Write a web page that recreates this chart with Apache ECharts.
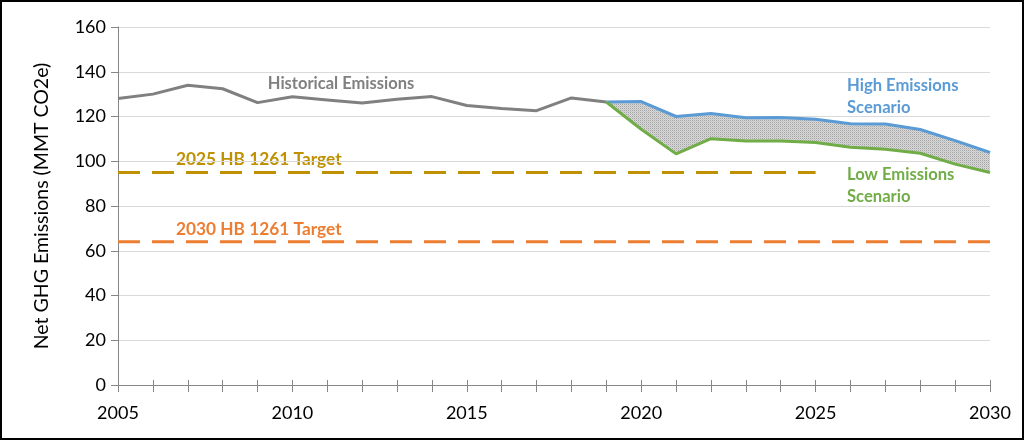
<!DOCTYPE html>
<html>
<head>
<meta charset="utf-8">
<script src="https://cdn.jsdelivr.net/npm/echarts@6/dist/echarts.min.js"></script>
<style>
  html, body { margin: 0; padding: 0; background: #fff; }
  #chart { width: 1024px; height: 440px; }
</style>
</head>
<body>
<div id="chart"></div>
<script>
// 历史排放与情景数据
var histYears = [2005, 2006, 2007, 2008, 2009, 2010, 2011, 2012, 2013, 2014, 2015, 2016, 2017, 2018, 2019];
var histValues = [128, 130, 134, 132.4, 126.2, 128.8, 127.4, 126, 127.7, 128.9, 124.9, 123.6, 122.6, 128.3, 126.5];

var scenYears = [2019, 2020, 2021, 2022, 2023, 2024, 2025, 2026, 2027, 2028, 2029, 2030];
var highValues = [126.5, 126.7, 120, 121.3, 119.4, 119.6, 118.8, 116.8, 116.6, 114.2, 109.2, 103.9];
var lowValues = [126.5, 114.3, 103.3, 110.1, 109.1, 109.1, 108.4, 106.3, 105.4, 103.6, 98.7, 95];

var target2025Years = [2005, 2025];
var target2025Values = [95, 95];
var target2030Years = [2005, 2030];
var target2030Values = [64, 64];

var font = 'Lato, "Open Sans", sans-serif';

function pairs(xs, ys) {
  var out = [];
  for (var i = 0; i < xs.length; i++) out.push([xs[i], ys[i]]);
  return out;
}

//点状灰色填充
function makePattern() {
  var c = document.createElement('canvas');
  c.width = 2; c.height = 2;
  var ctx = c.getContext('2d');
  ctx.fillStyle = '#dadada';
  ctx.fillRect(0, 0, 2, 2);
  ctx.fillStyle = '#a2a2a2';
  ctx.fillRect(0, 0, 1, 1);
  ctx.fillStyle = '#c4c4c4';
  ctx.fillRect(1, 1, 1, 1);
  return c;
}
var pattern = makePattern();

// 高低情景之间的区域，按年份一行
var bandData = [];
for (var i = 0; i < scenYears.length; i++) {
  bandData.push([scenYears[i], lowValues[i], highValues[i]]);
}

var tickColor = '#868686';
var myChart = echarts.init(document.getElementById('chart'));
var option = {
  animation: false,
  grid: { left: 118, right: 34, top: 27, bottom: 55 },
  xAxis: [{
    type: 'value', position: 'bottom',
    min: 2005, max: 2030, interval: 5,
    axisLine: { lineStyle: { color: tickColor, width: 1 } },
    axisTick: { show: true, length: 7, lineStyle: { color: tickColor } },
    minorTick: { show: true, splitNumber: 5, length: 7, lineStyle: { color: tickColor } },
    splitLine: { show: false },
    axisLabel: { color: '#000', fontSize: 18, fontFamily: font, margin: 19,
      formatter: function(v) { return String(v); } }
  }, {
    // 刻度线向上的一半（Excel 的交叉刻度）
    type: 'value', position: 'bottom',
    min: 2005, max: 2030, interval: 5,
    axisLine: { show: false },
    axisTick: { show: true, inside: true, length: 5, lineStyle: { color: tickColor } },
    minorTick: { show: true, splitNumber: 5, length: 5, lineStyle: { color: tickColor } },
    splitLine: { show: false },
    axisLabel: { show: false }
  }],
  yAxis: {
    type: 'value',
    min: 0, max: 160, interval: 20,
    name: 'Net GHG Emissions (MMT CO2e)',
    nameLocation: 'middle',
    nameGap: 66,
    nameTextStyle: { color: '#000', fontSize: 19.5, fontFamily: font },
    axisLine: { show: true, lineStyle: { color: tickColor } },
    axisTick: { show: true, length: 7, lineStyle: { color: tickColor } },
    splitLine: { lineStyle: { color: '#d9d9d9' } },
    axisLabel: { color: '#000', fontSize: 18, fontFamily: font, margin: 12 }
  },
  series: [
    {
      name: 'band', type: 'custom', silent: true, z: 1,
      data: bandData,
      encode: { x: 0, y: [1, 2] },
      renderItem: function(params, api) {
        if (params.dataIndex !== 0) return;
        var top = [], bottom = [];
        for (var k = 0; k < bandData.length; k++) {
          top.push(api.coord([bandData[k][0], bandData[k][2]]));
          bottom.unshift(api.coord([bandData[k][0], bandData[k][1]]));
        }
        return {
          type: 'polygon',
          shape: { points: top.concat(bottom) },
          style: { fill: { image: pattern, repeat: 'repeat' } }
        };
      }
    },
    {
      name: 'Historical Emissions', type: 'line', symbol: 'none',
      data: pairs(histYears, histValues),
      lineStyle: { color: '#808080', width: 3 }, z: 3
    },
    {
      name: 'High Emissions Scenario', type: 'line', symbol: 'none',
      data: pairs(scenYears, highValues),
      lineStyle: { color: '#5b9bd5', width: 3 }, z: 3
    },
    {
      name: 'Low Emissions Scenario', type: 'line', symbol: 'none',
      data: pairs(scenYears, lowValues),
      lineStyle: { color: '#70ad47', width: 3 }, z: 3
    },
    {
      name: '2025 HB 1261 Target', type: 'line', symbol: 'none',
      data: pairs(target2025Years, target2025Values),
      lineStyle: { color: '#bf9000', width: 3, type: [22, 12] }, z: 2
    },
    {
      name: '2030 HB 1261 Target', type: 'line', symbol: 'none',
      data: pairs(target2030Years, target2030Values),
      lineStyle: { color: '#ed7d31', width: 3, type: [22, 12] }, z: 2
    }
  ],
  graphic: [
    { type: 'rect', shape: { x: 1, y: 1, width: 1022, height: 438 },
      style: { fill: 'none', stroke: '#000', lineWidth: 2 }, z: 10 },
    { type: 'text', x: 341, y: 84,
      style: { text: 'Historical Emissions', fill: '#808080', font: 'bold 16.5px ' + font, align: 'center', verticalAlign: 'middle' } },
    { type: 'text', x: 176, y: 159,
      style: { text: '2025 HB 1261 Target', fill: '#bf9000', font: 'bold 17.3px ' + font, align: 'left', verticalAlign: 'middle' } },
    { type: 'text', x: 176, y: 229,
      style: { text: '2030 HB 1261 Target', fill: '#ed7d31', font: 'bold 17.3px ' + font, align: 'left', verticalAlign: 'middle' } },
    { type: 'text', x: 847, y: 97,
      style: { text: 'High Emissions\nScenario', fill: '#5b9bd5', font: 'bold 16.6px ' + font, lineHeight: 22, align: 'left', verticalAlign: 'middle' } },
    { type: 'text', x: 847, y: 186,
      style: { text: 'Low Emissions\nScenario', fill: '#70ad47', font: 'bold 16.6px ' + font, lineHeight: 22, align: 'left', verticalAlign: 'middle' } }
  ]
};
myChart.setOption(option);
</script>
</body>
</html>
